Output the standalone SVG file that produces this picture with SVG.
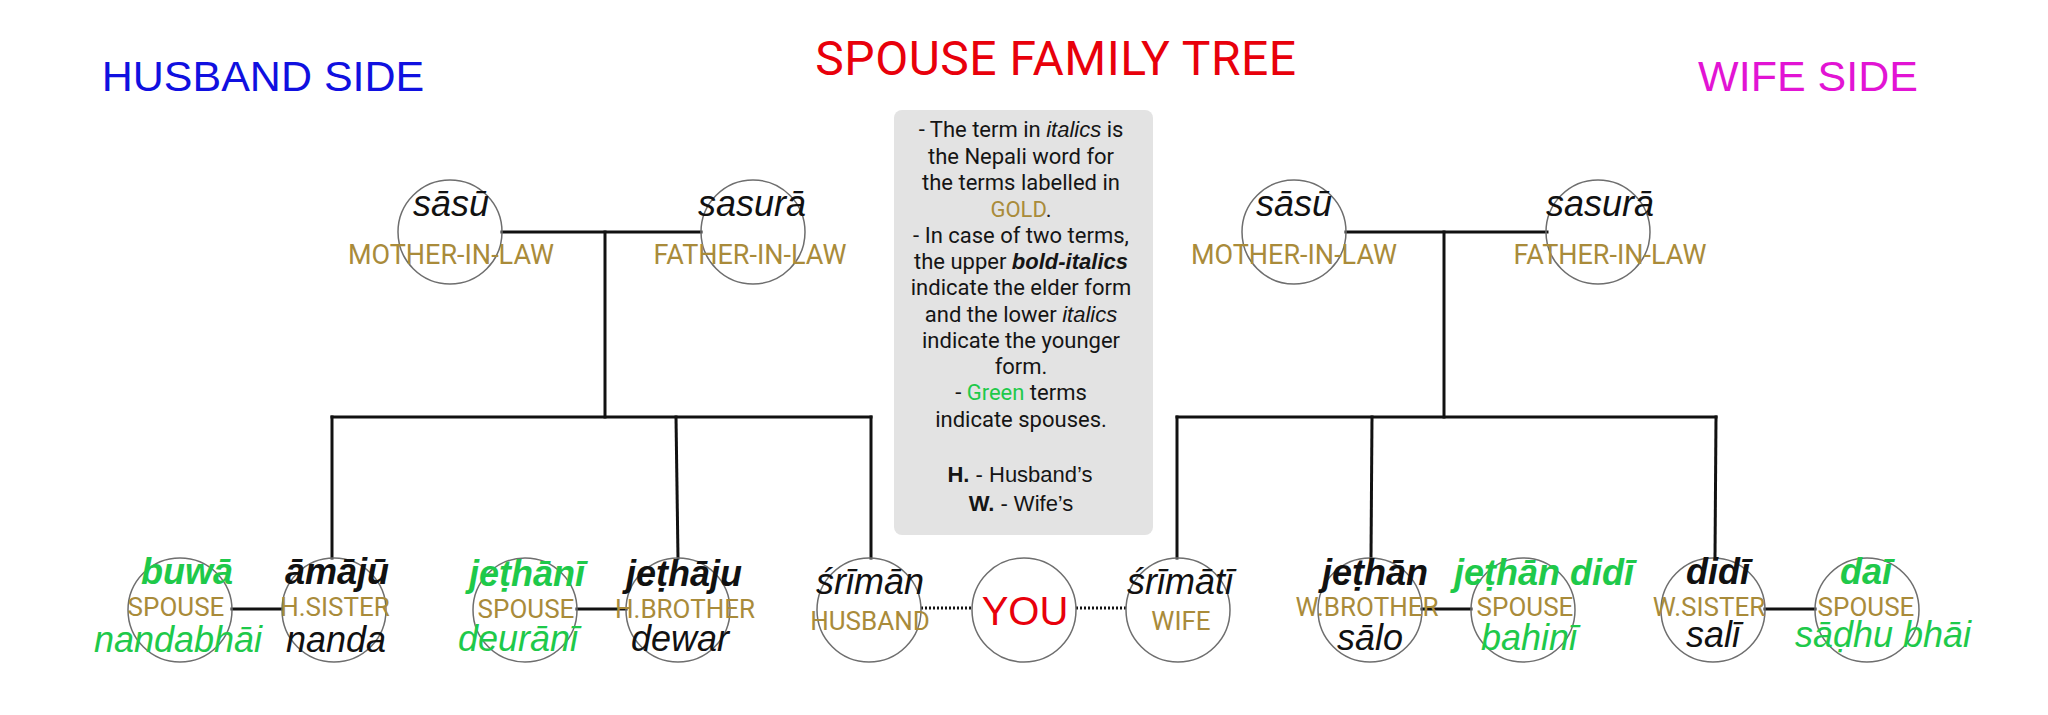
<svg xmlns="http://www.w3.org/2000/svg" width="2048" height="715" viewBox="0 0 2048 715">
<style>
.lbl{font-family:Roboto,"DejaVu Sans",sans-serif;font-size:26px;fill:#a98b3a;text-anchor:middle}
.tl{font-size:27px}
.nm{font-family:"Liberation Sans","DejaVu Sans",sans-serif;font-size:36px;font-style:italic;text-anchor:middle;fill:#111}
.bi{font-weight:bold}
.g{fill:#1ec94a}
.node circle{fill:none;stroke:#6e6e6e;stroke-width:1.5}
.conn line{stroke:#111;stroke-width:3;stroke-linecap:square}
.conn line.dot{stroke-dasharray:2 2;stroke-linecap:butt}
.box{font-family:Roboto,"DejaVu Sans",sans-serif;font-size:22px;fill:#151515;text-anchor:middle}
.ar{font-family:"Liberation Sans","DejaVu Sans",sans-serif}
.it{font-style:italic}
.ar.bi{font-weight:bold}
</style>
<rect width="2048" height="715" fill="#ffffff"/>

<g id="titles">
<text x="263" y="91" font-family="Liberation Sans, Arial, sans-serif" font-size="43" fill="#1010e0" text-anchor="middle">HUSBAND SIDE</text>
<text x="1056" y="75" font-family="Roboto, DejaVu Sans, sans-serif" font-size="48" fill="#e8000b" text-anchor="middle" letter-spacing="0.5">SPOUSE FAMILY TREE</text>
<text x="1808" y="91" font-family="Liberation Sans, Arial, sans-serif" font-size="43" fill="#e214d4" text-anchor="middle">WIFE SIDE</text>
</g>

<g id="legend">
<rect x="894" y="110" width="259" height="425" rx="8" fill="#e3e3e3"/>
<text class="box" x="1021" y="137">- The term in <tspan class="ar it">italics</tspan> is</text>
<text class="box" x="1021" y="164">the Nepali word for</text>
<text class="box" x="1021" y="190">the terms labelled in</text>
<text class="box" x="1021" y="217"><tspan fill="#a98b3a">GOLD</tspan>.</text>
<text class="box" x="1021" y="243">- In case of two terms,</text>
<text class="box" x="1021" y="269">the upper <tspan class="ar it bi">bold-italics</tspan></text>
<text class="box" x="1021" y="295">indicate the elder form</text>
<text class="box" x="1021" y="322">and the lower <tspan class="ar it">italics</tspan></text>
<text class="box" x="1021" y="348">indicate the younger</text>
<text class="box" x="1021" y="374">form.</text>
<text class="box" x="1021" y="400">- <tspan fill="#1ec94a">Green</tspan> terms</text>
<text class="box" x="1021" y="427">indicate spouses.</text>
<text class="box ar" x="1020" y="482" font-size="24"><tspan font-weight="bold">H.</tspan> - Husband’s</text>
<text class="box ar" x="1021" y="511" font-size="24"><tspan font-weight="bold">W.</tspan> - Wife’s</text>
</g>

<g id="connectors" class="conn">
<line x1="502" y1="232" x2="701" y2="232"/>
<line x1="605" y1="232" x2="605" y2="417"/>
<line x1="332" y1="417" x2="871" y2="417"/>
<line x1="332" y1="417" x2="332" y2="558"/>
<line x1="676" y1="417" x2="678" y2="558"/>
<line x1="871" y1="417" x2="871" y2="558"/>
<line x1="1346" y1="232" x2="1547" y2="232"/>
<line x1="1444" y1="232" x2="1444" y2="417"/>
<line x1="1177" y1="417" x2="1716" y2="417"/>
<line x1="1177" y1="417" x2="1177" y2="558"/>
<line x1="1372" y1="417" x2="1371" y2="558"/>
<line x1="1716" y1="417" x2="1715" y2="558"/>
<line x1="232" y1="609" x2="282" y2="609"/>
<line x1="577" y1="609" x2="626" y2="609"/>
<line x1="1422" y1="609" x2="1471" y2="609"/>
<line x1="1765" y1="609" x2="1815" y2="609"/>
<line class="dot" x1="921" y1="608" x2="972" y2="608"/>
<line class="dot" x1="1076" y1="608" x2="1126" y2="608"/>
</g>

<g id="h-mother" class="node">
<circle cx="450" cy="232" r="52"/>
<text class="nm" x="451" y="216">sāsū</text>
<text class="lbl tl" x="451" y="264">MOTHER-IN-LAW</text>
</g>
<g id="h-father" class="node">
<circle cx="753" cy="232" r="52"/>
<text class="nm" x="752" y="216">sasurā</text>
<text class="lbl tl" x="750" y="264">FATHER-IN-LAW</text>
</g>
<g id="w-mother" class="node">
<circle cx="1294" cy="232" r="52"/>
<text class="nm" x="1294" y="216">sāsū</text>
<text class="lbl tl" x="1294" y="264">MOTHER-IN-LAW</text>
</g>
<g id="w-father" class="node">
<circle cx="1598" cy="232" r="52"/>
<text class="nm" x="1600" y="216">sasurā</text>
<text class="lbl tl" x="1610" y="264">FATHER-IN-LAW</text>
</g>

<g id="hsister-spouse" class="node">
<circle cx="180" cy="610" r="52"/>
<text class="nm bi g" x="187" y="584">buwā</text>
<text class="lbl" x="176" y="616">SPOUSE</text>
<text class="nm g" x="178" y="652">nandabhāi</text>
</g>
<g id="hsister" class="node">
<circle cx="334" cy="610" r="52"/>
<text class="nm bi" x="337" y="584">āmājū</text>
<text class="lbl" x="335" y="616">H.SISTER</text>
<text class="nm" x="336" y="652">nanda</text>
</g>
<g id="hbrother-spouse" class="node">
<circle cx="525" cy="610" r="52"/>
<text class="nm bi g" x="527" y="586">jeṭhānī</text>
<text class="lbl" x="526" y="618">SPOUSE</text>
<text class="nm g" x="518" y="651">deurānī</text>
</g>
<g id="hbrother" class="node">
<circle cx="678" cy="610" r="52"/>
<text class="nm bi" x="684" y="586">jeṭhāju</text>
<text class="lbl" x="685" y="618">H.BROTHER</text>
<text class="nm" x="680" y="651">dewar</text>
</g>
<g id="husband" class="node">
<circle cx="869" cy="610" r="52"/>
<text class="nm" x="870" y="594">śrīmān</text>
<text class="lbl" x="870" y="630">HUSBAND</text>
</g>
<g id="you" class="node">
<circle cx="1024" cy="610" r="52"/>
<text x="1025" y="625" font-family="Liberation Sans, Arial, sans-serif" font-size="40" fill="#e8000b" text-anchor="middle">YOU</text>
</g>
<g id="wife" class="node">
<circle cx="1178" cy="610" r="52"/>
<text class="nm" x="1180" y="594">śrīmātī</text>
<text class="lbl" x="1181" y="630">WIFE</text>
</g>
<g id="wbrother" class="node">
<circle cx="1370" cy="610" r="52"/>
<text class="nm bi" x="1375" y="585">jeṭhān</text>
<text class="lbl" x="1367" y="616">W.BROTHER</text>
<text class="nm" x="1370" y="650">sālo</text>
</g>
<g id="wbrother-spouse" class="node">
<circle cx="1523" cy="610" r="52"/>
<text class="nm bi g" x="1544" y="585">jeṭhān didī</text>
<text class="lbl" x="1525" y="616">SPOUSE</text>
<text class="nm g" x="1529" y="650">bahinī</text>
</g>
<g id="wsister" class="node">
<circle cx="1713" cy="610" r="52"/>
<text class="nm bi" x="1718" y="584">didī</text>
<text class="lbl" x="1709" y="616">W.SISTER</text>
<text class="nm" x="1713" y="647">salī</text>
</g>
<g id="wsister-spouse" class="node">
<circle cx="1867" cy="610" r="52"/>
<text class="nm bi g" x="1866" y="584">daī</text>
<text class="lbl" x="1866" y="616">SPOUSE</text>
<text class="nm g" x="1883" y="647">sāḍhu bhāi</text>
</g>
</svg>
